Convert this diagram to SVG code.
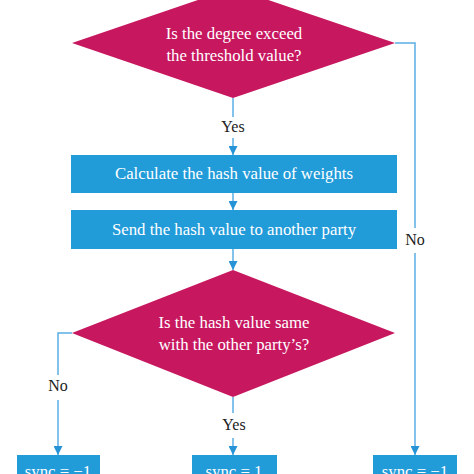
<svg xmlns="http://www.w3.org/2000/svg" width="474" height="474" viewBox="0 0 474 474">
<defs>
<style>
.dia{fill:#c7175f}
.box{fill:#229bd9}
.wt{fill:#ffffff;font-family:"Liberation Serif",serif;font-size:16.8px;text-anchor:middle}
.lbl{fill:#222222;font-family:"Liberation Serif",serif;font-size:16px;text-anchor:middle}
.ln{fill:none;stroke:#5aaee3;stroke-width:1.5}
</style>
<marker id="ah" viewBox="0 0 10 10" refX="10" refY="5" markerWidth="9" markerHeight="9" markerUnits="userSpaceOnUse" orient="auto">
<path d="M0,0 L10,5 L0,10 z" fill="#2593d6"/>
</marker>
</defs>
<rect width="474" height="474" fill="#ffffff"/>
<g id="connectors">
<path class="ln" d="M233,98 V117"/>
<path class="ln" d="M233,138 V155" marker-end="url(#ah)"/>
<path class="ln" d="M233,193 V210" marker-end="url(#ah)"/>
<path class="ln" d="M233,249 V270" marker-end="url(#ah)"/>
<path class="ln" d="M395,43 H415 V228"/>
<path class="ln" d="M415,253 V455" marker-end="url(#ah)"/>
<path class="ln" d="M72,333 H58 V375"/>
<path class="ln" d="M58,400 V455" marker-end="url(#ah)"/>
<path class="ln" d="M233,397 V413"/>
<path class="ln" d="M233,438 V455" marker-end="url(#ah)"/>
<text class="lbl" x="233" y="132">Yes</text>
<text class="lbl" x="415" y="245">No</text>
<text class="lbl" x="58" y="391">No</text>
<text class="lbl" x="234" y="430">Yes</text>
</g>
<g id="q1">
<polygon class="dia" points="233,-12 395,43 233,98 72,43"/>
<text class="wt" x="234" y="39">Is the degree exceed</text>
<text class="wt" x="234" y="61">the threshold value?</text>
</g>
<g id="calc">
<rect class="box" x="71" y="155" width="326" height="38"/>
<text class="wt" x="234" y="179">Calculate the hash value of weights</text>
</g>
<g id="send">
<rect class="box" x="71" y="210" width="326" height="39"/>
<text class="wt" x="234" y="235">Send the hash value to another party</text>
</g>
<g id="q2">
<polygon class="dia" points="233,270 395,333 233,397 72,333"/>
<text class="wt" x="234" y="328">Is the hash value same</text>
<text class="wt" x="234" y="350">with the other party’s?</text>
</g>
<g id="s1">
<rect class="box" x="17" y="455" width="83" height="30"/>
<text class="wt" x="58" y="477">sync = −1</text>
</g>
<g id="s2">
<rect class="box" x="192" y="455" width="85" height="30"/>
<text class="wt" x="234" y="477">sync = 1</text>
</g>
<g id="s3">
<rect class="box" x="373" y="455" width="84" height="30"/>
<text class="wt" x="415" y="477">sync = −1</text>
</g>
</svg>
